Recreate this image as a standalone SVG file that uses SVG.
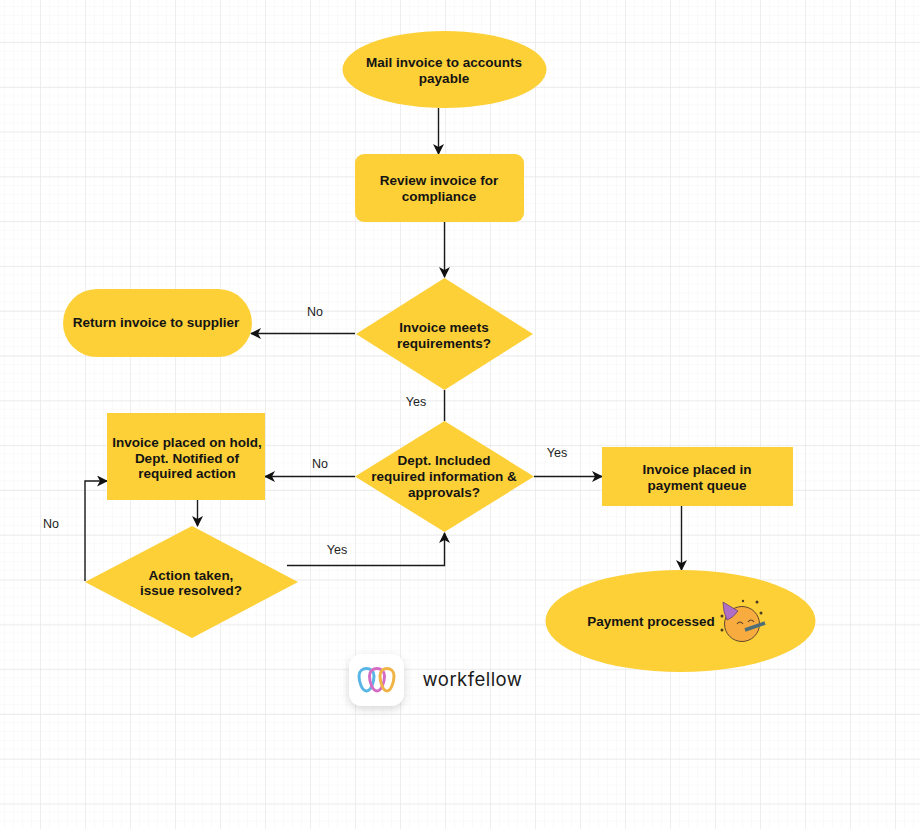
<svg xmlns="http://www.w3.org/2000/svg" width="920" height="829" viewBox="0 0 920 829">
<defs>
<pattern id="minor" width="9" height="8.95" patternUnits="userSpaceOnUse" x="4" y="6"><path d="M0 0H9M0 0V8.95" fill="none" stroke="#f6f6f6" stroke-width="1"/></pattern>
<pattern id="major" width="45" height="44.8" patternUnits="userSpaceOnUse" x="40" y="42"><path d="M0 0H45M0 0V44.8" fill="none" stroke="#e8e8e8" stroke-width="1.400"/></pattern>
<marker id="arr" markerWidth="11" markerHeight="11" refX="10" refY="5.500" orient="auto" markerUnits="userSpaceOnUse"><path d="M0 0L11 5.500L0 11L3 5.500Z" fill="#111"/></marker>
<filter id="sh" x="-30%" y="-30%" width="160%" height="170%"><feDropShadow dx="0" dy="3" stdDeviation="4" flood-color="#000" flood-opacity=".16"/></filter>
</defs>
<style>
.s{fill:#fdd037}
.t{font-family:"Liberation Sans",Arial,sans-serif;font-size:13.500px;font-weight:700;fill:#141414;text-anchor:middle}
.l{font-family:"Liberation Sans",Arial,sans-serif;font-size:12.500px;fill:#222;text-anchor:middle}
.c{fill:none;stroke:#1a1a1a;stroke-width:1.400;marker-end:url(#arr)}
.n{fill:none;stroke:#1a1a1a;stroke-width:1.400}
.loop{fill:none;stroke-width:3}
.dot{fill:#4a3c24}
</style>
<rect width="920" height="829" fill="#fff"/>
<rect width="920" height="829" fill="url(#minor)"/>
<rect width="920" height="829" fill="url(#major)"/>
<g id="connectors">
<path class="c" d="M438.500 108V154"/>
<path class="c" d="M444.500 222V277"/>
<path class="c" d="M355 333.500H251"/>
<path class="n" d="M444.500 390V421"/>
<path class="c" d="M355 476.500H265"/>
<path class="c" d="M534 476.500H602"/>
<path class="c" d="M197.500 500V526"/>
<path class="c" d="M85 581V481H107"/>
<path class="c" d="M287 565.500H444.500V533"/>
<path class="c" d="M681.500 506V570"/>
</g>
<g id="edge-labels">
<text class="l" x="315" y="316">No</text>
<text class="l" x="416" y="406">Yes</text>
<text class="l" x="320" y="468">No</text>
<text class="l" x="557" y="457">Yes</text>
<text class="l" x="51" y="528">No</text>
<text class="l" x="337" y="554">Yes</text>
</g>
<g id="mail"><ellipse class="s" cx="444.500" cy="69.500" rx="102" ry="38.500"/><text class="t" x="444" y="67">Mail invoice to accounts</text><text class="t" x="444" y="83">payable</text></g>
<g id="review"><rect class="s" x="355" y="154" width="169" height="68" rx="9"/><text class="t" x="439" y="185">Review invoice for</text><text class="t" x="439" y="201">compliance</text></g>
<g id="return"><rect class="s" x="63" y="289" width="189" height="68" rx="34"/><text class="t" x="156" y="327">Return invoice to supplier</text></g>
<g id="meets"><path class="s" d="M444.500 278L533 334L444.500 390L356 334Z"/><text class="t" x="444" y="332">Invoice meets</text><text class="t" x="444" y="348">requirements?</text></g>
<g id="dept"><path class="s" d="M444.500 421L534 476.500L444.500 532L355 476.500Z"/><text class="t" x="444" y="465">Dept. Included</text><text class="t" x="444" y="481">required information &amp;</text><text class="t" x="444" y="497">approvals?</text></g>
<g id="hold"><rect class="s" x="107" y="413" width="158" height="87"/><text class="t" x="187" y="447">Invoice placed on hold,</text><text class="t" x="187" y="463">Dept. Notified of</text><text class="t" x="187" y="478">required action</text></g>
<g id="action"><path class="s" d="M192 526L298 582L192 638L85 582Z"/><text class="t" x="191" y="580">Action taken,</text><text class="t" x="191" y="595">issue resolved?</text></g>
<g id="queue"><rect class="s" x="602" y="447" width="191" height="59"/><text class="t" x="697" y="474">Invoice placed in</text><text class="t" x="697" y="490">payment queue</text></g>
<g id="payment"><ellipse class="s" cx="680.500" cy="621" rx="135" ry="51"/><text class="t" x="651" y="626">Payment processed</text>
<g id="party-face">
<circle cx="742" cy="624" r="17.500" fill="#f8ab3e" stroke="#5f4a2c" stroke-width="1"/>
<path d="M723 602L738 611Q733 618 727 620Q723 612 723 602Z" fill="#b06fc4" stroke="#5b3b6b" stroke-width=".7"/>
<path d="M737 624q3-4 6 0M748 622q3-4 6 0" fill="none" stroke="#5f4a2c" stroke-width="1.200"/>
<path d="M745 630L765 623" stroke="#4f6f78" stroke-width="3.500"/>
<circle class="dot" cx="722" cy="616" r="1.500"/><circle class="dot" cx="722" cy="630" r="1.500"/><circle class="dot" cx="757" cy="602" r="1.500"/><circle class="dot" cx="761" cy="613" r="1.500"/><circle class="dot" cx="743" cy="601" r="1.200"/>
</g></g>
<g id="logo">
<rect x="349" y="654" width="55" height="52" rx="13" fill="#fff" filter="url(#sh)"/>
<path class="loop" stroke="#59b5e5" d="M359 676c0-10 15-10 15 0c0 6-3 15-7.500 15s-7.500-9-7.500-15Z"/>
<path class="loop" stroke="#d56cc4" d="M369.500 676c0-10 15-10 15 0c0 6-3 15-7.500 15s-7.500-9-7.500-15Z"/>
<path class="loop" stroke="#f0b346" d="M380 676c0-10 14-10 14 0c0 6-3 15-7 15s-7-9-7-15Z"/>
<text x="472.500" y="686" font-family="Inter,'Liberation Sans',sans-serif" font-size="18.500" letter-spacing=".45" fill="#1a1a1a" text-anchor="middle">workfellow</text>
</g>
</svg>
